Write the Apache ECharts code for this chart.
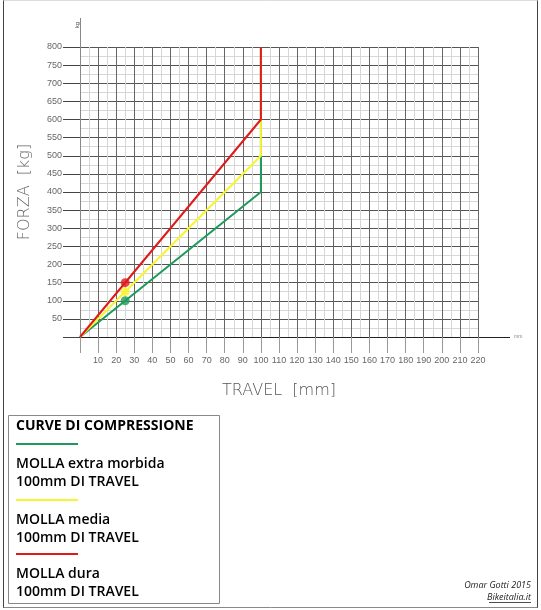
<!DOCTYPE html>
<html>
<head>
<meta charset="utf-8">
<script src="https://cdn.jsdelivr.net/npm/echarts@6/dist/echarts.min.js"></script>
<style>
  html, body { margin: 0; padding: 0; background: #fff; }
  #chart { width: 541px; height: 610px; }
</style>
</head>
<body>
<div id="chart"></div>
<script>
// ---- data ----
const travelPoints = [0, 100, 100];              // mm
const forceExtraMorbida = [0, 400, 800];         // kg
const forceMedia = [0, 500, 800];
const forceDura = [0, 600, 800];
const sagTravel = 25;
const sagForce = [100, 125, 150];                // extra morbida, media, dura
const seriesNames = ['MOLLA extra morbida', 'MOLLA media', 'MOLLA dura'];
const seriesColors = ['#1f9a5c', '#f6f62e', '#e01a1a'];
const legendTitle = 'CURVE DI COMPRESSIONE';
const legendSub = '100mm DI TRAVEL';
const xMax = 220, xInterval = 10;
const yMax = 800, yInterval = 50;

const forces = [forceExtraMorbida, forceMedia, forceDura];
const pairs = f => travelPoints.map((t, i) => [t, f[i]]);

const chart = echarts.init(document.getElementById('chart'), null, { renderer: 'canvas' });

const axisFont = 'Liberation Sans, Arial, sans-serif';
const legFont = '"Open Sans", "Noto Sans", sans-serif';

const series = [];
forces.forEach((f, i) => {
  series.push({
    name: seriesNames[i], type: 'line', data: pairs(f), showSymbol: false,
    lineStyle: { color: seriesColors[i], width: 2 }, itemStyle: { color: seriesColors[i] },
    z: 3 + i, animation: false
  });
});
forces.forEach((f, i) => {
  series.push({
    type: 'scatter', data: [[sagTravel, sagForce[i]]], symbolSize: 9,
    itemStyle: { color: seriesColors[i] }, z: 10, animation: false
  });
});

const option = {
  animation: false,
  backgroundColor: '#fff',
  grid: { left: 80, right: 63, top: 47, bottom: 273, containLabel: false },
  xAxis: {
    type: 'value', min: 0, max: xMax, interval: xInterval,
    name: 'TRAVEL  [mm]', nameLocation: 'middle', nameGap: 46,
    nameTextStyle: { fontSize: 16, color: '#555', fontFamily: 'DejaVu Sans, sans-serif', fontWeight: 'lighter' },
    axisLine: { show: true, onZero: false, lineStyle: { color: '#222', width: 1 } },
    axisTick: { show: true, length: 16, lineStyle: { color: '#999' } },
    axisLabel: { margin: 19, fontSize: 9, color: '#666', fontFamily: axisFont,
      formatter: v => v === 0 ? '' : String(v) },
    splitLine: { show: true, lineStyle: { color: '#666', width: 1 } },
    minorTick: { show: false, splitNumber: 2 },
    minorSplitLine: { show: true, lineStyle: { color: '#d6d6d6', width: 1 } }
  },
  yAxis: {
    type: 'value', min: 0, max: yMax, interval: yInterval,
    name: 'FORZA  [kg]', nameLocation: 'middle', nameGap: 47, nameRotate: 90,
    nameTextStyle: { fontSize: 16, color: '#666', fontFamily: 'DejaVu Sans, sans-serif', fontWeight: 'lighter' },
    axisLine: { show: true, onZero: false, lineStyle: { color: '#888', width: 1 } },
    axisTick: { show: true, length: 17, lineStyle: { color: '#444' } },
    axisLabel: { margin: 18, fontSize: 9, color: '#666', fontFamily: axisFont,
      formatter: v => v === 0 ? '' : String(v) },
    splitLine: { show: true, lineStyle: { color: '#555', width: 1 } },
    minorTick: { show: false, splitNumber: 2 },
    minorSplitLine: { show: true, lineStyle: { color: '#d6d6d6', width: 1 } }
  },
  series: series
};
chart.setOption(option);

// decorations computed from the chart's scales
const o = chart.convertToPixel({ gridIndex: 0 }, [0, 0]);
const topPt = chart.convertToPixel({ gridIndex: 0 }, [0, yMax]);
const rightPt = chart.convertToPixel({ gridIndex: 0 }, [xMax, 0]);

const graphics = [
  // page frame
  { type: 'line', shape: { x1: 3.5, y1: 0, x2: 3.5, y2: 608 }, style: { stroke: '#444', lineWidth: 1 } },
  { type: 'line', shape: { x1: 537.5, y1: 0, x2: 537.5, y2: 608 }, style: { stroke: '#444', lineWidth: 1 } },
  { type: 'line', shape: { x1: 3.5, y1: 0.5, x2: 537.5, y2: 0.5 }, style: { stroke: '#ddd', lineWidth: 1 } },
  { type: 'line', shape: { x1: 3.5, y1: 607.5, x2: 537.5, y2: 607.5 }, style: { stroke: '#888', lineWidth: 1 } },
  // axis extensions
  { type: 'line', shape: { x1: o[0] + 0.5, y1: topPt[1], x2: o[0] + 0.5, y2: topPt[1] - 29 }, style: { stroke: '#888', lineWidth: 1 } },
  { type: 'line', shape: { x1: rightPt[0], y1: o[1] + 0.5, x2: rightPt[0] + 32, y2: o[1] + 0.5 }, style: { stroke: '#222', lineWidth: 1 } },
  { type: 'text', x: o[0] - 3, y: topPt[1] - 22, rotation: Math.PI / 2, style: { text: 'kg', fontSize: 6, fill: '#555', fontFamily: axisFont, align: 'center', verticalAlign: 'middle' } },
  { type: 'text', x: rightPt[0] + 36, y: o[1], style: { text: 'mm', fontSize: 5, fill: '#888', fontFamily: axisFont, align: 'left', verticalAlign: 'middle' } },
  // legend box
  { type: 'rect', shape: { x: 8.5, y: 415.5, width: 211, height: 188 }, style: { fill: 'none', stroke: '#888', lineWidth: 1 } },
  { type: 'text', x: 16, y: 426, style: { text: legendTitle, fontSize: 14, fontWeight: 700, fill: '#000', fontFamily: legFont, verticalAlign: 'middle' } }
];
const legY = [444, 500, 554];
seriesNames.forEach((n, i) => {
  graphics.push({ type: 'line', shape: { x1: 16, y1: legY[i], x2: 78, y2: legY[i] }, style: { stroke: seriesColors[i], lineWidth: 2 } });
  graphics.push({ type: 'text', x: 16, y: legY[i] + 20, style: { text: n, fontSize: 14, fontWeight: 600, fill: '#000', fontFamily: legFont, verticalAlign: 'middle' } });
  graphics.push({ type: 'text', x: 16, y: legY[i] + 38, style: { text: legendSub, fontSize: 14, fontWeight: 600, fill: '#000', fontFamily: legFont, verticalAlign: 'middle' } });
});
// credits
graphics.push({ type: 'text', x: 531, y: 585, style: { text: 'Omar Gotti 2015', fontSize: 9, fontStyle: 'italic', fill: '#222', fontFamily: legFont, align: 'right', verticalAlign: 'middle' } });
graphics.push({ type: 'text', x: 531, y: 597, style: { text: 'Bikeitalia.it', fontSize: 9, fontStyle: 'italic', fill: '#222', fontFamily: legFont, align: 'right', verticalAlign: 'middle' } });
graphics.push({ type: 'line', shape: { x1: 489, y1: 602.5, x2: 531, y2: 602.5 }, style: { stroke: '#222', lineWidth: 0.8 } });

chart.setOption({ graphic: graphics });
</script>
</body>
</html>
